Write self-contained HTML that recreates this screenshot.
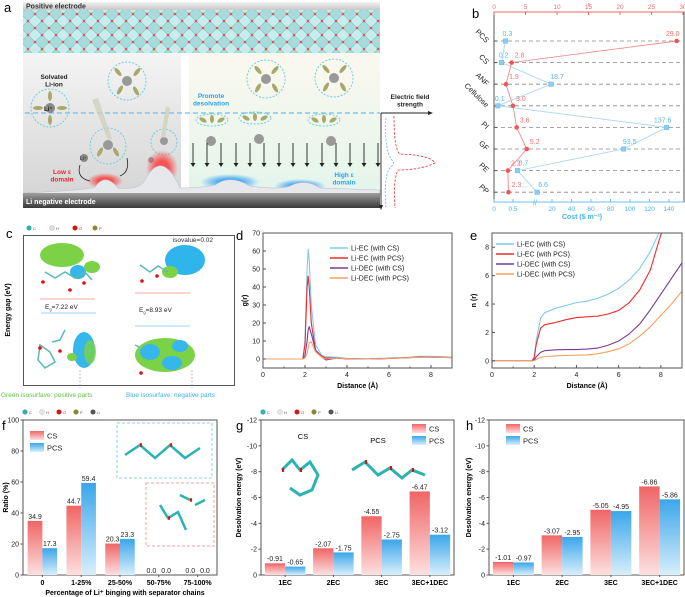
<!DOCTYPE html>
<html><head><meta charset="utf-8"><style>
html,body{margin:0;padding:0;background:#fff}
svg{display:block;font-family:"Liberation Sans",Arial,sans-serif}
</style></head><body>
<svg id="fig" width="685" height="597" viewBox="0 0 685 597" xmlns="http://www.w3.org/2000/svg">
<defs>
<linearGradient id="gCS" x1="0" y1="0" x2="0" y2="1"><stop offset="0" stop-color="#f06565"/><stop offset="1" stop-color="#fde0e0"/></linearGradient>
<linearGradient id="gPCS" x1="0" y1="0" x2="0" y2="1"><stop offset="0" stop-color="#3ba6ea"/><stop offset="1" stop-color="#d8effc"/></linearGradient>
<linearGradient id="gTop" x1="0" y1="0" x2="0" y2="1"><stop offset="0" stop-color="#f2f2f2"/><stop offset="1" stop-color="#c8c8c8"/></linearGradient>
<linearGradient id="gBot" x1="0" y1="0" x2="0" y2="1"><stop offset="0" stop-color="#a0a0a0"/><stop offset="0.5" stop-color="#6a6a6a"/><stop offset="1" stop-color="#3a3a3a"/></linearGradient>
<linearGradient id="gLeft" x1="0" y1="0" x2="0" y2="1"><stop offset="0" stop-color="#f4f4f4"/><stop offset="1" stop-color="#d6d6d6"/></linearGradient>
<linearGradient id="gRight" x1="0" y1="0" x2="0" y2="1"><stop offset="0" stop-color="#fbf8ee"/><stop offset="1" stop-color="#e4f5ec"/></linearGradient>
<pattern id="lat" width="14" height="14" patternUnits="userSpaceOnUse"><rect width="14" height="14" fill="#a8dcdc"/><path d="M0 7L7 0L14 7L7 14Z" fill="#c6ecec" stroke="#7fc4c6" stroke-width="0.6"/><circle cx="7" cy="0" r="1.3" fill="#f25050"/><circle cx="0" cy="7" r="1.3" fill="#f25050"/><circle cx="14" cy="7" r="1.3" fill="#f25050"/><circle cx="7" cy="14" r="1.3" fill="#f25050"/></pattern>
<radialGradient id="glowR"><stop offset="0.4" stop-color="#ff3030" stop-opacity="0.8"/><stop offset="1" stop-color="#ff3030" stop-opacity="0"/></radialGradient>
<radialGradient id="glowB"><stop offset="0.4" stop-color="#2a9df4" stop-opacity="0.8"/><stop offset="1" stop-color="#2a9df4" stop-opacity="0"/></radialGradient>
<clipPath id="clipE"><rect x="492" y="233" width="190" height="135"/></clipPath>
<clipPath id="clipD"><rect x="263" y="233" width="189" height="135"/></clipPath>
</defs>

<!-- ========== Panel a ========== -->
<g>
<text x="4" y="12" font-size="13">a</text>
<rect x="23" y="2" width="357" height="8" fill="url(#gTop)"/>
<text x="26" y="8.5" font-size="7" font-weight="bold" fill="#333">Positive electrode</text>
<rect x="23" y="10" width="357" height="43" fill="url(#lat)"/>
<rect x="23" y="53" width="158" height="140" fill="url(#gLeft)"/>
<rect x="181" y="53" width="8" height="140" fill="#fff"/>
<rect x="189" y="53" width="191" height="140" fill="url(#gRight)"/>
<line x1="25" y1="113" x2="380" y2="113" stroke="#4fb2f0" stroke-width="1" stroke-dasharray="5,3"/>
<g>
<circle cx="50" cy="108" r="19" fill="none" stroke="#6cd0de" stroke-dasharray="2,1.5"/>
<circle cx="50" cy="108" r="5" fill="#8a8a8a"/>
<text x="44" y="111" font-size="6" font-weight="bold" fill="#222">Li⁺</text>
<circle cx="127" cy="81" r="19" fill="none" stroke="#6cd0de" stroke-dasharray="2,1.5"/>
<circle cx="127" cy="81" r="5" fill="#999"/>
<circle cx="266" cy="79" r="19" fill="none" stroke="#6cd0de" stroke-dasharray="2,1.5"/>
<circle cx="266" cy="79" r="5" fill="#999"/>
<circle cx="334" cy="78" r="19" fill="none" stroke="#6cd0de" stroke-dasharray="2,1.5"/>
<circle cx="334" cy="78" r="5" fill="#999"/>
<circle cx="108" cy="146" r="18" fill="none" stroke="#6cd0de" stroke-dasharray="2,1.5"/>
<circle cx="108" cy="145" r="5" fill="#999"/>
<circle cx="164" cy="142" r="13" fill="none" stroke="#6cd0de" stroke-dasharray="2,1.5"/>
<circle cx="164" cy="141" r="4" fill="#999"/>
<path d="M92 100 L108 140 L112 139 L98 98Z M170 108 L165 138 L161 137 L166 106Z" fill="#cfcfbf" opacity="0.8"/>
<g fill="#a8a86a">
<ellipse cx="50" cy="96" rx="2" ry="5"/><ellipse cx="38" cy="108" rx="5" ry="2"/><ellipse cx="62" cy="108" rx="5" ry="2"/><ellipse cx="50" cy="120" rx="2" ry="5"/>
<ellipse cx="118" cy="72" rx="2" ry="5" transform="rotate(-40 118 72)"/><ellipse cx="137" cy="72" rx="2" ry="5" transform="rotate(40 137 72)"/><ellipse cx="120" cy="90" rx="2" ry="5" transform="rotate(30 120 90)"/><ellipse cx="136" cy="91" rx="2" ry="5" transform="rotate(-30 136 91)"/>
<ellipse cx="258" cy="70" rx="2" ry="5" transform="rotate(-40 258 70)"/><ellipse cx="275" cy="70" rx="2" ry="5" transform="rotate(40 275 70)"/><ellipse cx="258" cy="88" rx="2" ry="5" transform="rotate(30 258 88)"/><ellipse cx="275" cy="88" rx="2" ry="5" transform="rotate(-30 275 88)"/>
<ellipse cx="326" cy="69" rx="2" ry="5" transform="rotate(-40 326 69)"/><ellipse cx="343" cy="69" rx="2" ry="5" transform="rotate(40 343 69)"/><ellipse cx="326" cy="87" rx="2" ry="5" transform="rotate(30 326 87)"/><ellipse cx="343" cy="87" rx="2" ry="5" transform="rotate(-30 343 87)"/>
<ellipse cx="100" cy="152" rx="2" ry="5" transform="rotate(30 100 152)"/><ellipse cx="116" cy="152" rx="2" ry="5" transform="rotate(-30 116 152)"/>
</g>
<g fill="none" stroke="#6cd0de" stroke-dasharray="2,1.5">
<ellipse cx="212" cy="120" rx="16" ry="6"/><ellipse cx="255" cy="118" rx="16" ry="6"/><ellipse cx="324" cy="120" rx="16" ry="6"/>
</g>
<g fill="#a8a86a">
<ellipse cx="203" cy="120" rx="4" ry="2" transform="rotate(30 203 120)"/><ellipse cx="212" cy="119" rx="2" ry="4"/><ellipse cx="221" cy="120" rx="4" ry="2" transform="rotate(-30 221 120)"/>
<ellipse cx="246" cy="118" rx="4" ry="2" transform="rotate(30 246 118)"/><ellipse cx="255" cy="117" rx="2" ry="4"/><ellipse cx="264" cy="118" rx="4" ry="2" transform="rotate(-30 264 118)"/>
<ellipse cx="315" cy="120" rx="4" ry="2" transform="rotate(30 315 120)"/><ellipse cx="324" cy="119" rx="2" ry="4"/><ellipse cx="333" cy="120" rx="4" ry="2" transform="rotate(-30 333 120)"/>
</g>
<circle cx="211" cy="141" r="5" fill="#999"/><circle cx="259" cy="139" r="5" fill="#999"/><circle cx="331" cy="141" r="5" fill="#999"/>
<circle cx="84" cy="158" r="4" fill="#888"/><text x="80" y="160" font-size="5" fill="#222">Li⁺</text>
<circle cx="151" cy="160" r="3" fill="#999"/>
</g>
<g stroke="#222" stroke-width="0.9">
<path d="M193 143V165 M207 143V165 M221 143V165 M236 143V165 M250 143V165 M264 143V165 M279 143V165 M293 143V165 M307 143V165 M322 143V165 M336 143V165 M350 143V165 M364 143V165 M378 143V165"/>
</g>
<g fill="#222">
<path d="M190.5 163L193 167L195.5 163ZM204.5 163L207 167L209.5 163ZM218.5 163L221 167L223.5 163ZM233.5 163L236 167L238.5 163ZM247.5 163L250 167L252.5 163ZM261.5 163L264 167L266.5 163ZM276.5 163L279 167L281.5 163ZM290.5 163L293 167L295.5 163ZM304.5 163L307 167L309.5 163ZM319.5 163L322 167L324.5 163ZM333.5 163L336 167L338.5 163ZM347.5 163L350 167L352.5 163ZM361.5 163L364 167L366.5 163ZM375.5 163L378 167L380.5 163Z"/></g>
<path d="M80 165 Q76 178 90 181 M127 158 Q130 172 120 176" fill="none" stroke="#222" stroke-width="0.8"/>
<ellipse cx="105" cy="181" rx="18" ry="8" fill="url(#glowR)"/>
<ellipse cx="162" cy="168" rx="16" ry="18" fill="url(#glowR)"/>
<ellipse cx="230" cy="182" rx="30" ry="8" fill="url(#glowB)"/>
<ellipse cx="300" cy="186" rx="26" ry="7" fill="url(#glowB)"/>
<path d="M23 193 Q90 190 95 187 Q105 172 118 188 Q140 190 145 180 Q162 148 180 188 Q200 188 215 185 Q230 174 250 186 Q280 190 290 186 Q305 178 320 188 L380 190 L380 196 L23 196Z" fill="#e6e8ec" stroke="#b8bcc4" stroke-width="0.5"/>
<rect x="23" y="193" width="357" height="15" fill="url(#gBot)"/>
<text x="26" y="204" font-size="7" font-weight="bold" fill="#fff">Li negative electrode</text>
<text x="54" y="79" font-size="6.5" font-weight="bold" fill="#222" text-anchor="middle"><tspan x="54">Solvated</tspan><tspan x="54" dy="7.5">Li-ion</tspan></text>
<text x="62" y="174" font-size="6.5" font-weight="bold" fill="#e82828" text-anchor="middle"><tspan x="62">Low ε</tspan><tspan x="62" dy="7.5">domain</tspan></text>
<text x="344" y="177" font-size="6.5" font-weight="bold" fill="#2aa0ee" text-anchor="middle"><tspan x="344">High ε</tspan><tspan x="344" dy="7.5">domain</tspan></text>
<text x="211" y="98" font-size="6.5" font-weight="bold" fill="#2aa0ee" text-anchor="middle"><tspan x="211">Promote</tspan><tspan x="211" dy="7.5">desolvation</tspan></text>
<g>
<text x="410" y="99" font-size="6.5" font-weight="bold" text-anchor="middle" fill="#222"><tspan x="410">Electric field</tspan><tspan x="410" dy="7.5">strength</tspan></text>
<path d="M381 113V208 M381 113H430" stroke="#222" stroke-width="0.9" fill="none"/>
<path d="M428 111L433 113L428 115Z M379 205L381 210L383 205Z" fill="#222"/>
<path d="M386 118 Q384 150 392 160 Q395 163 392 166 Q383 172 386 208" fill="none" stroke="#5ab6ee" stroke-width="0.8" stroke-dasharray="2,1.5"/>
<path d="M394 116 Q394 150 400 154 Q430 155 435 163 Q420 170 398 170 Q393 180 395 208" fill="none" stroke="#ee3030" stroke-width="0.8" stroke-dasharray="2.5,1.5"/>
</g>
</g>

<!-- ========== Panel c ========== -->
<g>
<text x="6" y="238" font-size="13">c</text>
<g font-size="4" fill="#555">
<circle cx="29" cy="228" r="2.5" fill="#2ab3b3"/><text x="33" y="230">C</text>
<circle cx="52" cy="228" r="2.5" fill="#ddd" stroke="#999" stroke-width="0.3"/><text x="56" y="230">H</text>
<circle cx="75" cy="228" r="2.5" fill="#e01010"/><text x="79" y="230">O</text>
<circle cx="95" cy="228" r="2.5" fill="#8a8a2a"/><text x="99" y="230">P</text>
</g>
<rect x="23.5" y="235.5" width="211" height="150" fill="#fff" stroke="#555" stroke-width="1"/>
<text x="10" y="310" font-size="7" font-weight="bold" transform="rotate(-90 10 310)" text-anchor="middle">Energy gap (eV)</text>
<text x="213" y="242" font-size="6.5" text-anchor="end" fill="#333">isovalue=0.02</text>
<ellipse cx="62" cy="255" rx="22" ry="12" fill="#7cd246"/><ellipse cx="78" cy="272" rx="8" ry="7" fill="#35b7ec"/><ellipse cx="92" cy="267" rx="8" ry="6" fill="#7cd246"/>
<ellipse cx="185" cy="260" rx="20" ry="15" fill="#2fb4ec"/><ellipse cx="170" cy="272" rx="8" ry="6" fill="#7cd246"/>
<g stroke="#5bb8b8" stroke-width="1.5" fill="none">
<path d="M45 272 L55 278 L65 272 L75 278 L85 272 L92 280"/><path d="M140 265 L150 272 L158 266 L168 272"/>
<path d="M40 345 L50 352 L55 362 L45 368 L38 360Z"/><path d="M65 330 L60 340 L52 342"/><path d="M135 345 L150 352 L165 348 L178 356"/>
</g>
<g fill="#e01010"><circle cx="43" cy="282" r="1.8"/><circle cx="70" cy="290" r="1.8"/><circle cx="84" cy="283" r="1.8"/><circle cx="157" cy="276" r="1.8"/><circle cx="142" cy="281" r="1.8"/><circle cx="40" cy="348" r="1.8"/><circle cx="60" cy="351" r="1.8"/><circle cx="141" cy="373" r="1.8"/></g>
<line x1="40" y1="299" x2="95" y2="299" stroke="#f5a8a8" stroke-width="1"/>
<line x1="41" y1="313" x2="96" y2="313" stroke="#9cd3f5" stroke-width="1"/>
<text x="45" y="309" font-size="6.5" fill="#222">E<tspan font-size="4" dy="1.5">g</tspan><tspan dy="-1.5">=7.22 eV</tspan></text>
<line x1="135" y1="293" x2="190" y2="293" stroke="#f5a8a8" stroke-width="1"/>
<line x1="135" y1="326" x2="190" y2="326" stroke="#9cd3f5" stroke-width="1"/>
<text x="139" y="312" font-size="6.5" fill="#222">E<tspan font-size="4" dy="1.5">g</tspan><tspan dy="-1.5">=8.93 eV</tspan></text>
<ellipse cx="84" cy="350" rx="11" ry="18" fill="#35b7ec"/><ellipse cx="90" cy="352" rx="6" ry="12" fill="#7cd246" opacity="0.8"/><ellipse cx="72" cy="357" rx="5" ry="4" fill="#7cd246"/>
<ellipse cx="165" cy="355" rx="30" ry="17" fill="#7cd246"/><ellipse cx="150" cy="352" rx="10" ry="8" fill="#35b7ec"/><ellipse cx="172" cy="363" rx="10" ry="7" fill="#35b7ec"/><ellipse cx="180" cy="346" rx="8" ry="6" fill="#35b7ec"/>
<line x1="80" y1="370" x2="80" y2="388" stroke="#888" stroke-dasharray="2,1.5" stroke-width="0.6"/>
<line x1="192" y1="370" x2="192" y2="388" stroke="#888" stroke-dasharray="2,1.5" stroke-width="0.6"/>
<text x="1" y="397" font-size="6.5" fill="#5ec33a">Green isosurfave: positive parts</text>
<text x="126" y="397" font-size="6.5" fill="#38b5ee">Blue isosurfave: negative parts</text>
</g>

<g id="charts"></g>
</svg>
<script>
// ---------- Panel b data ----------
const bMaterials = ['PCS','CS','ANF','Cellulose','PI','GF','PE','PP'];
const bEpsilon = [29.0, 2.8, 1.9, 3.0, 3.6, 5.2, 2.2, 2.3];
const bCost = [0.3, 0.2, 18.7, 0.1, 137.6, 93.5, 0.7, 6.6];
const bEpsTicks = [0, 5, 10, 15, 20, 25, 30];
const bCostTicks = [0, 0.5, 20, 40, 60, 80, 100, 120, 140];
// ---------- Panel d data ----------
const dR = [0,1.9,2.0,2.1,2.15,2.2,2.3,2.5,2.8,3.0,3.5,4.0,5.0,6.0,7.0,7.5,8.0,9.0];
const dEC_CS = [0,0,10,50,61,55,30,8,2,1.2,1.0,0.3,0.2,0.5,1.0,1.5,1.5,1.0];
const dEC_PCS = [0,0,8,40,46,40,20,5,1.5,0.5,0.5,0,0,0.3,0.8,1.2,1.0,0.8];
const dDEC_CS = [0,0,2,10,16,18,14,5,1,-0.5,0.5,0.2,0,0.3,0.8,1.0,1.0,0.8];
const dDEC_PCS = [0,0,0.5,3,6,9,9.5,4,1,0,0.5,0.2,0,0.3,0.8,1.0,1.0,0.8];
const dYTicks = [0,10,20,30,40,50,60,70];
const dXTicks = [0,2,4,6,8];
// ---------- Panel e data ----------
const eR = [0,1.9,2.0,2.1,2.3,2.5,3.0,3.5,4.0,4.5,5.0,5.5,6.0,6.5,7.0,7.5,8.0,8.5,9.0];
const eEC_CS = [0,0,0.3,1.5,3.0,3.4,3.7,3.9,4.1,4.2,4.4,4.7,5.1,5.7,6.5,7.7,9.3,10.5,11.5];
const eEC_PCS = [0,0,0.2,1.2,2.3,2.55,2.7,2.9,3.05,3.1,3.15,3.3,3.55,4.1,5.0,6.4,8.9,10,11];
const eDEC_CS = [0,0,0.05,0.3,0.6,0.72,0.78,0.8,0.8,0.83,0.9,1.1,1.4,1.9,2.6,3.6,4.7,5.8,6.9];
const eDEC_PCS = [0,0,0.02,0.1,0.25,0.3,0.35,0.38,0.4,0.42,0.5,0.65,0.85,1.2,1.75,2.4,3.2,4.0,4.9];
const eYTicks = [0,2,4,6,8];
const eXTicks = [0,2,4,6,8];
// ---------- Panel f data ----------
const fCats = ['0','1-25%','25-50%','50-75%','75-100%'];
const fCS = [34.9, 44.7, 20.3, 0.0, 0.0];
const fPCS = [17.3, 59.4, 23.3, 0.0, 0.0];
const fYTicks = [0,20,40,60,80,100];
// ---------- Panel g data ----------
const gCats = ['1EC','2EC','3EC','3EC+1DEC'];
const gCS = [-0.91, -2.07, -4.55, -6.47];
const gPCS = [-0.65, -1.75, -2.75, -3.12];
// ---------- Panel h data ----------
const hCats = ['1EC','2EC','3EC','3EC+1DEC'];
const hCS = [-1.01, -3.07, -5.05, -6.86];
const hPCS = [-0.97, -2.95, -4.95, -5.86];
const energyTicks = [0,-2,-4,-6,-8,-10,-12];

const NS = 'http://www.w3.org/2000/svg';
const root = document.getElementById('charts');
function mk(tag, attrs, parent, txt) {
  const e = document.createElementNS(NS, tag);
  for (const k in attrs) e.setAttribute(k, attrs[k]);
  if (txt !== undefined) e.textContent = txt;
  (parent || root).appendChild(e);
  return e;
}
function lin(d0, d1, r0, r1) { return v => r0 + (v - d0) * (r1 - r0) / (d1 - d0); }
function pw(ds, rs) { return v => { for (let i = 0; i < ds.length - 1; i++) { if (v <= ds[i+1] || i === ds.length - 2) return rs[i] + (v - ds[i]) * (rs[i+1] - rs[i]) / (ds[i+1] - ds[i]); } }; }

// ================= Panel b =================
(function(){
  const L=494,R=684,T=12,B=202;
  const g = mk('g', {});
  
  
  let el = mk('text', {x:472,y:18,'font-size':13}, g, 'b');
  
  
  const xe = lin(0, 30, L, 683);
  const xc = pw([0,0.5,1,10,20,140],[L,513,524,545,552,669]);
  const yRow = i => 41 + i * 21.6;
  el = mk('rect', {x:L,y:T,width:R-L,height:B-T,fill:'none',stroke:'#555','stroke-width':1}, g);
  
  
  mk('line',{x1:L,y1:T,x2:R,y2:T,stroke:'#f06a6a','stroke-width':1},g);
  mk('line',{x1:L,y1:B,x2:R,y2:B,stroke:'#6cc0f0','stroke-width':1},g);
  bMaterials.forEach((m,i)=>{
    el = mk('line',{x1:L,y1:yRow(i),x2:R,y2:yRow(i),stroke:'#888','stroke-dasharray':'4,3','stroke-width':0.8},g);
    
    
    mk('line',{x1:L,y1:yRow(i),x2:L+3,y2:yRow(i),stroke:'#555'},g);
    el = mk('text',{x:L-6,y:yRow(i)+3,'font-size':7.5,'text-anchor':'end',fill:'#222',transform:`rotate(45 ${L-6} ${yRow(i)})`},g,m);
    
    
  });
  bEpsTicks.forEach(t=>{
    mk('line',{x1:xe(t),y1:T,x2:xe(t),y2:T+3,stroke:'#f06a6a'},g);
    el = mk('text',{x:xe(t),y:T-3,'font-size':6.5,'text-anchor':'middle',fill:'#f06a6a'},g,String(t));
    
    
  });
  el = mk('text',{x:589,y:6,'font-size':5,'text-anchor':'middle',fill:'#f06a6a'},g,'ε');
  
  
  bCostTicks.forEach(t=>{
    mk('line',{x1:xc(t),y1:B,x2:xc(t),y2:B-3,stroke:'#6cc0f0'},g);
    el = mk('text',{x:xc(t),y:B+9,'font-size':6.5,'text-anchor':'middle',fill:'#4ab0ec'},g,String(t));
    
    
  });
  mk('text',{x:535,y:B+3,'font-size':7,fill:'#4ab0ec','text-anchor':'middle'},g,'//');
  el = mk('text',{x:582,y:B+17,'font-size':7,'font-weight':'bold','text-anchor':'middle',fill:'#4ab0ec'},g,'Cost ($ m⁻²)');
  
  
  el = mk('polyline',{points:bCost.map((v,i)=>xc(v)+','+yRow(i)).join(' '),fill:'none',stroke:'#a8d8f5','stroke-width':0.9},g);
  
  
  el = mk('polyline',{points:bEpsilon.map((v,i)=>xe(v)+','+yRow(i)).join(' '),fill:'none',stroke:'#f58a8a','stroke-width':0.9},g);
  
  
  bCost.forEach((v,i)=>{
    el = mk('rect',{x:xc(v)-2.2,y:yRow(i)-2.2,width:4.4,height:4.4,fill:'#8ccdf5',stroke:'#5ab6ee','stroke-width':0.5},g);
    
    
    el = mk('text',{x:xc(v)+(v>100?-4:(v<0.4?2:6)),y:yRow(i)-5,'font-size':7,'text-anchor':'middle',fill:'#5ab6ee'},g,v.toFixed(1));
    
    
  });
  bEpsilon.forEach((v,i)=>{
    el = mk('circle',{cx:xe(v),cy:yRow(i),r:2.3,fill:'#f05555'},g);
    
    
    el = mk('text',{x:xe(v)+(v>20?-4:8),y:yRow(i)-5,'font-size':7,'text-anchor':'middle',fill:'#f07070'},g,v.toFixed(1));
    
    
  });
})();

// ================= line chart helper for d / e =================
function lineChart(cfg){
  const g = mk('g',{});
  
  
  let el = mk('text',{x:cfg.lx,y:cfg.ly,'font-size':13},g,cfg.label);
  
  
  const x = lin(cfg.x0,cfg.x1,cfg.L,cfg.R), y = lin(cfg.y0,cfg.y1,cfg.B,cfg.T);
  cfg.series.forEach(s=>{
    el = mk('polyline',{points:cfg.xs.map((r,i)=>x(r)+','+y(s.v[i])).join(' '),fill:'none',stroke:s.c,'stroke-width':1.1,'stroke-linejoin':'round','clip-path':cfg.clip},g);
    
    
  });
  el = mk('rect',{x:cfg.L,y:cfg.T,width:cfg.R-cfg.L,height:cfg.B-cfg.T,fill:'none',stroke:'#555','stroke-width':1},g);
  
  
  cfg.yt.forEach(t=>{
    mk('line',{x1:cfg.L,y1:y(t),x2:cfg.L+3,y2:y(t),stroke:'#555'},g);
    el = mk('text',{x:cfg.L-3,y:y(t)+2.5,'font-size':7,'text-anchor':'end',fill:'#222'},g,String(t));
    
    
  });
  cfg.xt.forEach(t=>{
    mk('line',{x1:x(t),y1:cfg.B,x2:x(t),y2:cfg.B-3,stroke:'#555'},g);
    mk('line',{x1:x(t+1),y1:cfg.B,x2:x(t+1),y2:cfg.B-1.5,stroke:'#555'},g);
    el = mk('text',{x:x(t),y:cfg.B+9,'font-size':7,'text-anchor':'middle',fill:'#222'},g,String(t));
    
    
  });
  el = mk('text',{x:(cfg.L+cfg.R)/2,y:cfg.B+20,'font-size':7,'font-weight':'bold','text-anchor':'middle'},g,'Distance (Å)');
  
  
  const yc=(cfg.T+cfg.B)/2;
  el = mk('text',{x:cfg.L-16,y:yc,'font-size':7,'font-weight':'bold','text-anchor':'middle',transform:`rotate(-90 ${cfg.L-16} ${yc})`},g,cfg.ytitle);
  
  
  const names=['Li-EC (with CS)','Li-EC (with PCS)','Li-DEC (with CS)','Li-DEC (with PCS)'];
  cfg.series.forEach((s,i)=>{
    const ly = cfg.legY + i*10;
    el = mk('line',{x1:cfg.legX,y1:ly,x2:cfg.legX+18,y2:ly,stroke:s.c,'stroke-width':1.6},g);
    
    
    el = mk('text',{x:cfg.legX+21,y:ly+2.5,'font-size':7,fill:'#222'},g,names[i]);
    
    
  });
}
const cols = ['#7fcaf2','#ee2a2a','#7a3a9a','#f7a060'];
lineChart({name:'panel-d-rdf-chart',label:'d',lx:236,ly:240,L:263,R:452,T:233,B:368,x0:0,x1:9,y0:-5,y1:70,
  xs:dR,series:[{v:dEC_CS,c:cols[0]},{v:dEC_PCS,c:cols[1]},{v:dDEC_CS,c:cols[2]},{v:dDEC_PCS,c:cols[3]}],
  yt:dYTicks,xt:dXTicks,ytitle:'g(r)',legX:330,legY:248,clip:'url(#clipD)'});
lineChart({name:'panel-e-coordination-chart',label:'e',lx:470,ly:240,L:492,R:682,T:233,B:368,x0:0,x1:9,y0:-0.5,y1:9,
  xs:eR,series:[{v:eEC_CS,c:cols[0]},{v:eEC_PCS,c:cols[1]},{v:eDEC_CS,c:cols[2]},{v:eDEC_PCS,c:cols[3]}],
  yt:eYTicks,xt:eXTicks,ytitle:'n (r)',legX:496,legY:244,clip:'url(#clipE)'});

// ================= bar chart helper =================
function barChart(cfg){
  const g = mk('g',{});
  
  
  let el = mk('text',{x:cfg.lx,y:cfg.ly,'font-size':13},g,cfg.label);
  
  
  const y = lin(cfg.y0,cfg.y1,cfg.B,cfg.T);
  const n = cfg.cats.length, step=(cfg.R-cfg.L)/n, bw=step*cfg.bwf;
  if (cfg.atoms) {
    const ax=cfg.L+2, ay=cfg.T-8;
    [['#2ab3b3','C'],['#e8e8e8','H'],['#e01010','O'],['#8a8a2a','P'],['#555','Li']].forEach((a,i)=>{
      mk('circle',{cx:ax+i*17,cy:ay,r:2.5,fill:a[0],stroke:'#999','stroke-width':0.3},g);
      mk('text',{x:ax+i*17+4,y:ay+2,'font-size':4,fill:'#555'},g,a[1]);
    });
  }
  el = mk('rect',{x:cfg.L,y:cfg.T,width:cfg.R-cfg.L,height:cfg.B-cfg.T,fill:'#fff',stroke:'#555','stroke-width':1},g);
  
  
  if (cfg.extra) cfg.extra(g);
  cfg.cats.forEach((c,i)=>{
    const cx = cfg.L + step*(i+0.5);
    [[cfg.a,'url(#gCS)',-1],[cfg.b,'url(#gPCS)',0]].forEach(([arr,fill,off])=>{
      const v=arr[i], x0=cx+off*bw, yt=Math.min(y(v),y(0)), h=Math.abs(y(v)-y(0));
      el = mk('rect',{x:x0,y:yt,width:bw,height:h,fill:fill},g);
      
      
      el = mk('text',{x:x0+bw/2,y:yt-2,'font-size':7,'text-anchor':'middle',fill:'#222'},g,v.toFixed(cfg.dec));
      
      
    });
    mk('line',{x1:cx,y1:cfg.B,x2:cx,y2:cfg.B+2,stroke:'#555'},g);
    el = mk('text',{x:cx,y:cfg.B+10,'font-size':7,'font-weight':'bold','text-anchor':'middle'},g,c);
    
    
  });
  cfg.yt.forEach(t=>{
    mk('line',{x1:cfg.L,y1:y(t),x2:cfg.L-2.5,y2:y(t),stroke:'#555'},g);
    el = mk('text',{x:cfg.L-4,y:y(t)+2.5,'font-size':7,'text-anchor':'end',fill:'#222'},g,String(t));
    
    
  });
  const yc=(cfg.T+cfg.B)/2;
  el = mk('text',{x:cfg.ytx,y:yc,'font-size':7,'font-weight':'bold','text-anchor':'middle',transform:`rotate(-90 ${cfg.ytx} ${yc})`},g,cfg.ytitle);
  
  
  if (cfg.xtitle) {
    el = mk('text',{x:(cfg.L+cfg.R)/2+5,y:cfg.B+20,'font-size':7,'font-weight':'bold','text-anchor':'middle'},g,cfg.xtitle);
    
    
  }
  [['CS','url(#gCS)'],['PCS','url(#gPCS)']].forEach((s,i)=>{
    el = mk('rect',{x:cfg.legX,y:cfg.legY+i*12,width:14,height:9,fill:s[1]},g);
    
    
    el = mk('text',{x:cfg.legX+17,y:cfg.legY+i*12+7.5,'font-size':7.5,fill:'#222'},g,s[0]);
    
    
  });
}
barChart({name:'panel-f-ratio-chart',label:'f',lx:2,ly:430,L:23,R:217,T:420,B:575,y0:0,y1:100,cats:fCats,a:fCS,b:fPCS,bwf:0.38,dec:1,yt:fYTicks,
  ytitle:'Ratio (%)',ytx:8,xtitle:'Percentage of Li⁺ binging with separator chains',legX:30,legY:431,atoms:true,
  extra:(g)=>{
    let el = mk('rect',{x:117,y:423,width:95,height:55,fill:'none',stroke:'#8ccff2','stroke-dasharray':'3,2','stroke-width':1},g);
    
    
    el = mk('rect',{x:146,y:483,width:68,height:63,fill:'none',stroke:'#f5a0a0','stroke-dasharray':'3,2','stroke-width':1},g);
    
    
    mk('path',{d:'M125 455 L140 445 L155 458 L170 445 L185 458 L200 448',fill:'none',stroke:'#2ab3b3','stroke-width':2.5},g);
    mk('path',{d:'M160 505 L168 518 L178 512 L186 530 M180 495 L190 500 M195 505 L205 500',fill:'none',stroke:'#2ab3b3','stroke-width':2.5},g);
    mk('path',{d:'M140 445 l2 0 M170 445 l2 0 M168 518 l2 0 M190 500 l2 0',fill:'none',stroke:'#e01010','stroke-width':3.5},g);
  }});
barChart({name:'panel-g-desolvation-chart',label:'g',lx:236,ly:430,L:261,R:454,T:420,B:575,y0:0,y1:-12,cats:gCats,a:gCS,b:gPCS,bwf:0.42,dec:2,yt:energyTicks,
  ytitle:'Desolvation energy (eV)',ytx:241,legX:412,legY:424,atoms:true,
  extra:(g)=>{
    mk('text',{x:303,y:439,'font-size':7.5,'text-anchor':'middle'},g,'CS');
    mk('text',{x:378,y:443,'font-size':7.5,'text-anchor':'middle'},g,'PCS');
    mk('path',{d:'M282 470 L292 460 L300 470 L310 462 L318 475 L312 490 L300 495 L290 488',fill:'none',stroke:'#2ab3b3','stroke-width':3},g);
    mk('path',{d:'M352 470 L365 462 L378 475 L390 468 L402 478 L412 470 L425 475',fill:'none',stroke:'#2ab3b3','stroke-width':3},g);
    mk('path',{d:'M282 470 l2 0 M300 470 l2 0 M365 462 l2 0 M390 468 l2 0 M412 470 l2 0',fill:'none',stroke:'#e01010','stroke-width':4},g);
  }});
barChart({name:'panel-h-desolvation-chart',label:'h',lx:466,ly:430,L:489,R:684,T:420,B:575,y0:0,y1:-12,cats:hCats,a:hCS,b:hPCS,bwf:0.42,dec:2,yt:energyTicks,
  ytitle:'Desolvation energy (eV)',ytx:471,legX:506,legY:424,atoms:false});
</script>
</body></html>
